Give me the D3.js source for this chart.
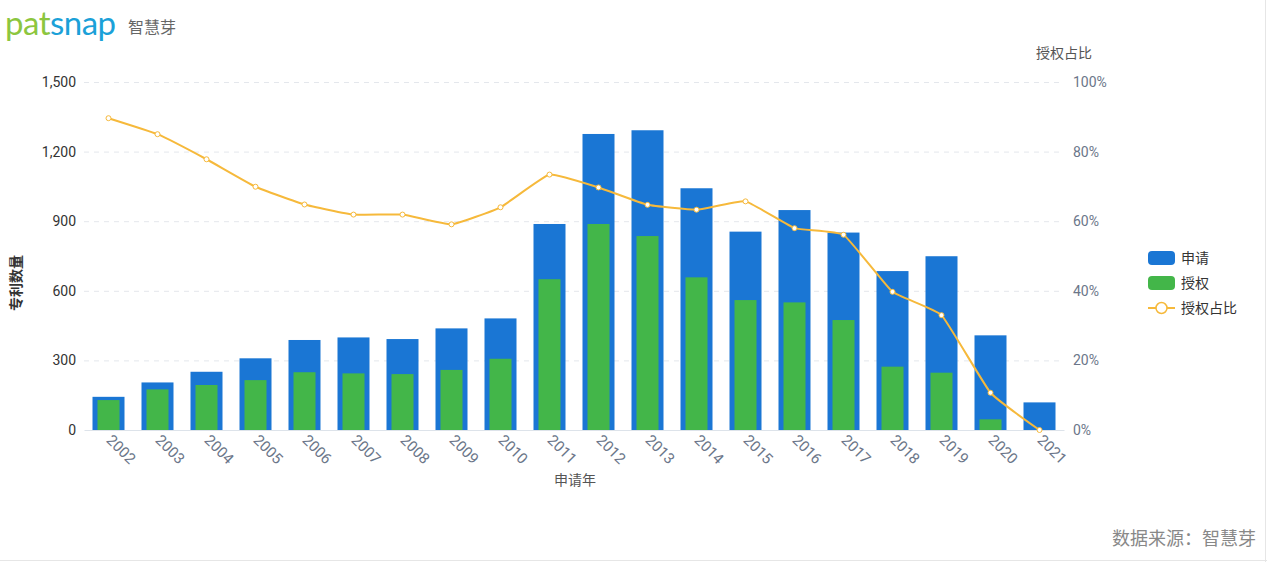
<!DOCTYPE html>
<html>
<head>
<meta charset="utf-8">
<script src="https://cdn.jsdelivr.net/npm/d3@7"></script>
<style>
    body { margin: 0; background: #fff; font-family: "Noto Sans CJK SC", "Noto Sans", sans-serif; }
    #chart { width: 1267px; height: 562px; }
</style>
</head>
<body>
<div id="chart"></div>
<script>
// data
const years = ["2002","2003","2004","2005","2006","2007","2008","2009","2010","2011",
               "2012","2013","2014","2015","2016","2017","2018","2019","2020","2021"];
const applied = [143, 205, 251, 309, 388, 399, 392, 438, 481, 888,
                 1276, 1292, 1042, 855, 948, 851, 685, 749, 408, 119];
const granted = [129, 175, 194, 215, 249, 244, 241, 259, 307, 650,
                 888, 836, 658, 560, 550, 474, 273, 247, 46, 0];
const grantRatio = [89.6, 85.0, 77.8, 69.9, 64.8, 61.9, 61.9, 59.1, 64.0, 73.4,
                    69.7, 64.7, 63.3, 65.7, 58.0, 56.1, 39.7, 33.0, 10.7, 0];
const leftTicks = [0, 300, 600, 900, 1200, 1500];
const rightTicks = [0, 20, 40, 60, 80, 100];

const W = 1267, H = 562;
const blue = "#1a76d4", green = "#43b649", orange = "#f6b93b";
const tickColor = "#6b7689";

const svg = d3.select("#chart").append("svg")
    .attr("width", W)
    .attr("height", H);

// card border
svg.append("line").attr("x1", 0).attr("x2", W).attr("y1", H - 1.5).attr("y2", H - 1.5)
    .attr("stroke", "#e6e6e6").attr("stroke-width", 1);
svg.append("line").attr("x1", W - 1.5).attr("x2", W - 1.5).attr("y1", 0).attr("y2", H)
    .attr("stroke", "#e6e6e6").attr("stroke-width", 1);

// logo
let logo = svg.append("text").attr("x", 5).attr("y", 35)
    .style("font-family", "Lato, 'Open Sans', sans-serif")
    .style("font-size", "33px")
    .style("letter-spacing", "-0.5px");
logo.append("tspan").attr("fill", "#8cc63f").text("pat");
logo.append("tspan").attr("fill", "#1ba1d8").text("snap");
svg.append("text").attr("x", 128).attr("y", 33)
    .attr("fill", "#666")
    .style("font-size", "16px")
    .text("智慧芽");

// scales
const x = d3.scaleBand().domain(years).range([84, 1064]);
const y = d3.scaleLinear().domain([0, 1500]).range([430, 82]);
const y2 = d3.scaleLinear().domain([0, 100]).range([430, 82]);

// grid
svg.append("g").selectAll("line")
    .data(leftTicks.slice(1))
    .enter().append("line")
    .attr("x1", 84).attr("x2", 1062)
    .attr("y1", d => y(d) + 0.5).attr("y2", d => y(d) + 0.5)
    .attr("stroke", "#e4e7ec")
    .attr("stroke-dasharray", "5,5");

// left axis
const yAxis = svg.append("g")
    .attr("transform", "translate(84,0)")
    .call(d3.axisLeft(y).tickValues(leftTicks).tickSize(0).tickPadding(8)
        .tickFormat(d3.format(",")));
yAxis.select(".domain").remove();
yAxis.selectAll("text").attr("fill", "#333").style("font-size", "14px")
    .style("font-family", "Roboto, 'Noto Sans', sans-serif");

// right axis
const y2Axis = svg.append("g")
    .attr("transform", "translate(1064,0)")
    .call(d3.axisRight(y2).tickValues(rightTicks).tickSize(0).tickPadding(9)
        .tickFormat(d => d + "%"));
y2Axis.select(".domain").remove();
y2Axis.selectAll("text").attr("fill", tickColor).style("font-size", "14px")
    .style("font-family", "Roboto, 'Noto Sans', sans-serif");

// bars
svg.append("g").selectAll("rect")
    .data(applied)
    .enter().append("rect")
    .attr("x", (d, i) => x(years[i]) + x.bandwidth() / 2 - 16)
    .attr("width", 32)
    .attr("y", d => y(d))
    .attr("height", d => y(0) - y(d))
    .attr("fill", blue);

svg.append("g").selectAll("rect")
    .data(granted)
    .enter().append("rect")
    .attr("x", (d, i) => x(years[i]) + x.bandwidth() / 2 - 11)
    .attr("width", 22)
    .attr("y", d => y(d))
    .attr("height", d => y(0) - y(d))
    .attr("fill", green);

// x axis
const xAxis = svg.append("g")
    .attr("transform", "translate(0,430)")
    .call(d3.axisBottom(x).tickSize(0).tickPadding(0));
xAxis.select(".domain").attr("stroke", "#dde3ea");
xAxis.selectAll("text")
    .attr("fill", tickColor)
    .style("font-size", "15px")
    .style("font-family", "Roboto, 'Noto Sans', sans-serif")
    .attr("text-anchor", "start")
    .attr("dy", null)
    .attr("y", null)
    .attr("transform", "translate(-3,11) rotate(45)");

// ratio line
const line = d3.line()
    .x((d, i) => x(years[i]) + x.bandwidth() / 2)
    .y(d => y2(d))
    .curve(d3.curveCardinal.tension(0.65));
svg.append("path")
    .datum(grantRatio)
    .attr("d", line)
    .attr("fill", "none")
    .attr("stroke", orange)
    .attr("stroke-width", 2);
svg.append("g").selectAll("circle")
    .data(grantRatio)
    .enter().append("circle")
    .attr("cx", (d, i) => x(years[i]) + x.bandwidth() / 2)
    .attr("cy", d => y2(d))
    .attr("r", 2.5)
    .attr("fill", "#fff")
    .attr("stroke", orange)
    .attr("stroke-width", 1);

// axis titles
svg.append("text")
    .attr("transform", "translate(21,283) rotate(-90)")
    .attr("text-anchor", "middle")
    .attr("fill", "#333")
    .style("font-size", "14px")
    .style("font-weight", "bold")
    .text("专利数量");
svg.append("text")
    .attr("x", 1064).attr("y", 58)
    .attr("text-anchor", "middle")
    .attr("fill", "#555")
    .style("font-size", "14px")
    .text("授权占比");
svg.append("text")
    .attr("x", 575).attr("y", 485)
    .attr("text-anchor", "middle")
    .attr("fill", "#555")
    .style("font-size", "14px")
    .text("申请年");

// legend
const legend = svg.append("g").attr("transform", "translate(1148,258)");
const legendItems = [
    { name: "申请", color: blue, type: "rect" },
    { name: "授权", color: green, type: "rect" },
    { name: "授权占比", color: orange, type: "line" }
];
legendItems.forEach((d, i) => {
    let g = legend.append("g").attr("transform", "translate(0," + i * 25 + ")");
    if (d.type === "rect") {
        g.append("rect").attr("x", 0).attr("y", -7).attr("width", 27).attr("height", 14)
            .attr("rx", 4).attr("fill", d.color);
    } else {
        g.append("line").attr("x1", 0).attr("x2", 27).attr("y1", 0).attr("y2", 0)
            .attr("stroke", d.color).attr("stroke-width", 2);
        g.append("circle").attr("cx", 13.5).attr("cy", 0).attr("r", 5.5)
            .attr("fill", "#fff").attr("stroke", d.color).attr("stroke-width", 1.5);
    }
    g.append("text").attr("x", 33).attr("y", 5)
        .attr("fill", "#333")
        .style("font-size", "14px")
        .text(d.name);
});

// source
svg.append("text")
    .attr("x", 1256).attr("y", 545)
    .attr("text-anchor", "end")
    .attr("fill", "#888")
    .style("font-size", "18px")
    .text("数据来源：智慧芽");
</script>
</body>
</html>
